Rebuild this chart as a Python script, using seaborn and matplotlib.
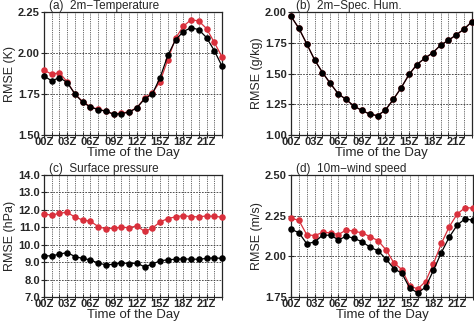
import numpy as np
import pandas as pd
import matplotlib
matplotlib.use("Agg")
import matplotlib.pyplot as plt
import seaborn as sns
from matplotlib.ticker import MultipleLocator, FormatStrFormatter

hours = list(range(24))
hour_ticks = [0, 3, 6, 9, 12, 15, 18, 21]
hour_labels = ["00Z", "03Z", "06Z", "09Z", "12Z", "15Z", "18Z", "21Z"]

# 2m temperature RMSE (K)
t2m_black = [1.86, 1.83, 1.85, 1.82, 1.75, 1.70, 1.67, 1.655, 1.645, 1.627, 1.631, 1.639,
             1.666, 1.72, 1.75, 1.85, 1.985, 2.08, 2.13, 2.155, 2.142, 2.094, 2.015, 1.92]
t2m_red = [1.895, 1.871, 1.879, 1.824, 1.749, 1.704, 1.672, 1.656, 1.646, 1.627, 1.633, 1.642,
           1.666, 1.725, 1.757, 1.826, 1.96, 2.09, 2.163, 2.203, 2.195, 2.149, 2.065, 1.976]

# 2m specific humidity RMSE (g/kg)
q2m_black = [1.965, 1.868, 1.741, 1.611, 1.508, 1.419, 1.335, 1.289, 1.235, 1.200, 1.170, 1.157,
             1.203, 1.289, 1.384, 1.492, 1.573, 1.624, 1.668, 1.730, 1.770, 1.814, 1.862, 1.922]
q2m_red = list(q2m_black)

# surface pressure RMSE (hPa)
ps_black = [9.36, 9.36, 9.46, 9.55, 9.32, 9.21, 9.13, 8.94, 8.85, 8.87, 8.96, 8.92,
            8.94, 8.73, 8.89, 9.08, 9.13, 9.17, 9.19, 9.17, 9.17, 9.21, 9.25, 9.21]
ps_red = [11.77, 11.69, 11.81, 11.86, 11.58, 11.42, 11.35, 11.04, 10.91, 10.95, 11.00, 10.98,
          11.08, 10.76, 10.95, 11.31, 11.50, 11.60, 11.67, 11.61, 11.60, 11.65, 11.63, 11.58]

# 10m wind speed RMSE (m/s)
ws_black = [2.167, 2.145, 2.077, 2.089, 2.130, 2.130, 2.101, 2.124, 2.110, 2.089, 2.056, 2.034,
            1.984, 1.925, 1.896, 1.806, 1.775, 1.810, 1.914, 2.023, 2.118, 2.192, 2.231, 2.221]
ws_red = [2.235, 2.221, 2.132, 2.128, 2.147, 2.145, 2.134, 2.163, 2.153, 2.145, 2.120, 2.097,
          2.040, 1.960, 1.919, 1.820, 1.799, 1.845, 1.955, 2.079, 2.182, 2.260, 2.299, 2.297]

panels = [
    dict(title="(a)  2m\u2212Temperature", ylabel="RMSE (K)", black=t2m_black, red=t2m_red,
         ylim=(1.50, 2.25), step=0.25, fmt="%.2f"),
    dict(title="(b)  2m\u2212Spec. Hum.", ylabel="RMSE (g/kg)", black=q2m_black, red=q2m_red,
         ylim=(1.00, 2.00), step=0.25, fmt="%.2f"),
    dict(title="(c)  Surface pressure", ylabel="RMSE (hPa)", black=ps_black, red=ps_red,
         ylim=(7.0, 14.0), step=1.0, fmt="%.1f"),
    dict(title="(d)  10m\u2212wind speed", ylabel="RMSE (m/s)", black=ws_black, red=ws_red,
         ylim=(1.75, 2.50), step=0.25, fmt="%.2f"),
]

sns.set_style("ticks")
plt.rcParams["font.family"] = ["Liberation Sans", "DejaVu Sans"]

fig = plt.figure(figsize=(4.74, 3.25), dpi=100)
W, H = 474.0, 325.0
boxes = [(44, 12, 222, 135), (291, 12, 472, 135), (44, 175, 222, 297), (291, 175, 473, 297)]

palette = {"ctl": "#d9303c", "exp": "black"}

for box, p in zip(boxes, panels):
    x0, y0, x1, y1 = box
    ax = fig.add_axes([x0 / W, 1 - y1 / H, (x1 - x0) / W, (y1 - y0) / H])
    df = pd.DataFrame({
        "hour": hours * 2,
        "rmse": p["red"] + p["black"],
        "run": ["ctl"] * 24 + ["exp"] * 24,
    })
    sns.lineplot(data=df, x="hour", y="rmse", hue="run", palette=palette, marker="o",
                 markersize=4.7, markeredgewidth=0, linewidth=0.9, legend=False, ax=ax,
                 clip_on=False, zorder=3)
    ax.set_xlim(0, 23)
    ax.set_ylim(*p["ylim"])
    ax.set_xticks(hour_ticks)
    ax.set_xticklabels(hour_labels)
    ax.xaxis.set_minor_locator(MultipleLocator(1))
    ax.yaxis.set_major_locator(MultipleLocator(p["step"]))
    ax.yaxis.set_major_formatter(FormatStrFormatter(p["fmt"]))
    ax.tick_params(axis="both", which="major", direction="inout", length=5, width=0.8,
                   labelsize=8, pad=0.5)
    ax.tick_params(axis="x", which="minor", direction="inout", length=4, width=0.7)
    ax.tick_params(axis="x", which="major", pad=-1)
    for lab in ax.get_xticklabels() + ax.get_yticklabels():
        lab.set_fontweight("bold")
    for s in ax.spines.values():
        s.set_linewidth(0.9)
        s.set_visible(True)
    # vertical dotted lines every hour, horizontal dashed lines at major levels
    ax.grid(True, axis="x", which="both", linestyle=(0, (1, 1.2)), color="#333333", linewidth=0.6)
    ax.grid(True, axis="y", which="major", linestyle=(0, (2, 1.5)), color="#333333", linewidth=0.6)
    ax.set_axisbelow(True)
    ax.set_xlabel("Time of the Day", fontsize=9.5, labelpad=0)
    ax.set_ylabel(p["ylabel"], fontsize=9, labelpad=1.5)
    ax.set_title(p["title"], fontsize=8.5, loc="left", pad=1, x=0.03)

fig.savefig("out.png", dpi=100)
